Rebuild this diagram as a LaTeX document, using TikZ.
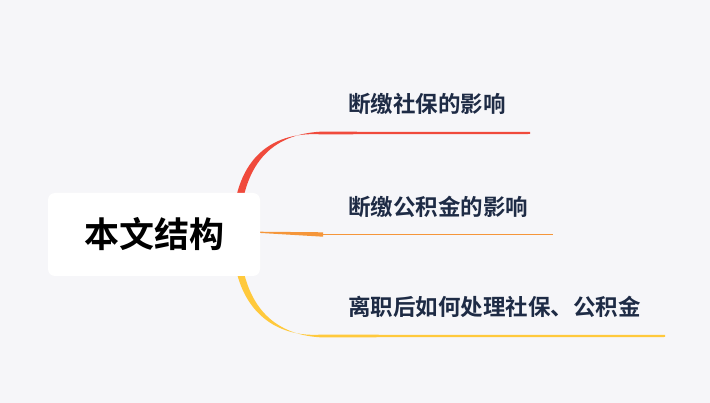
\documentclass[tikz,border=0pt]{standalone}
\usepackage{fontspec}
\newfontfamily\cjk{Noto Sans CJK SC}[BoldFont={Noto Sans CJK SC Bold}]
\definecolor{bgc}{HTML}{F6F6F9}
\definecolor{bred}{HTML}{F04A3C}
\definecolor{borange}{HTML}{F5963A}
\definecolor{byellow}{HTML}{FFC93C}
\definecolor{txt}{HTML}{1E2B45}
\tikzset{
  rootbox/.style={fill=white, rounded corners=7pt, minimum width=212pt, minimum height=83pt, inner sep=0pt, font=\cjk\bfseries\fontsize{35}{40}\selectfont, text=black},
  leaf/.style={anchor=west, inner sep=0pt, font=\cjk\bfseries\fontsize{22.5}{26}\selectfont, text=txt}
}
\begin{document}
\begin{tikzpicture}[x=1pt,y=-1pt]
\fill[bgc] (0,0) rectangle (710,403);
\useasboundingbox (0,0) rectangle (710,403);
% named points
\coordinate (s) at (236,234.5);
\coordinate (r1) at (320,133);
\coordinate (e1) at (530,133);
\coordinate (r2) at (323,234.5);
\coordinate (e2) at (553,234.5);
\coordinate (r3) at (320,336);
\coordinate (e3) at (665,336);
% red branch (tapered)
\fill[bred] ([xshift=-3.5pt]s) .. controls (232,160) and (270,131.6) .. ([yshift=-1.3pt]r1) -- ([yshift=-1pt]e1) -- ([yshift=1pt]e1) -- ([yshift=1.3pt]r1) .. controls (273,134.6) and (240.5,162) .. ([xshift=3.5pt]s) -- cycle;
% orange branch
\fill[borange] (s) ++(0,-3) -- ([yshift=-2.2pt]r2) -- ([yshift=2.2pt]r2) -- ([yshift=3pt]s) -- cycle;
\draw[borange, line width=1.6pt] (r2) -- (e2);
% yellow branch (tapered)
\fill[byellow] ([xshift=-3.5pt]s) .. controls (232,305) and (270,337.4) .. ([yshift=1.3pt]r3) -- ([yshift=1pt]e3) -- ([yshift=-1pt]e3) -- ([yshift=-1.3pt]r3) .. controls (273,334.4) and (240.5,305) .. ([xshift=3.5pt]s) -- cycle;
% root
\node[rootbox] (root) at (154,234.5) {本文结构};
% leaves
\node[leaf] (l1) at (348,103.5) {断缴社保的影响};
\node[leaf] (l2) at (348,207) {断缴公积金的影响};
\node[leaf] (l3) at (348,306.5) {离职后如何处理社保、公积金};
\end{tikzpicture}
\end{document}
